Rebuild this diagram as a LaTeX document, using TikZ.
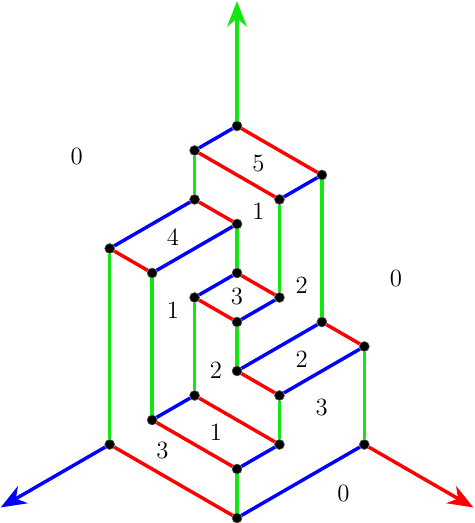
\documentclass[tikz,border=0pt]{standalone}
\usetikzlibrary{arrows.meta}
\definecolor{zgreen}{RGB}{20,230,20}
\tikzset{dot/.style={shape=circle,fill=black,draw=black!70,inner sep=0pt,minimum size=0.2cm}}
\tikzset{lbl/.style={font=\Large}}
\tikzset{every edge/.style={draw, line width=2pt}}
\tikzset{xe/.style={draw=red}, ye/.style={draw=blue}, ze/.style={draw=zgreen}}
\tikzset{ax/.style={-{Stealth[length=0.52cm,width=0.4cm,inset=0.16cm]}}}

\begin{document}
\begin{tikzpicture}[x={(0.866cm,-0.5cm)}, y={(-0.866cm,-0.5cm)}, z={(0cm,1cm)}]
  \useasboundingbox (-4.837cm,-3.102cm) rectangle (4.837cm,7.571cm);

  \node[dot] (v330) at (3,3,0) {};
  \node[dot] (v030) at (0,3,0) {};
  \node[dot] (v300) at (3,0,0) {};
  \node[dot] (v331) at (3,3,1) {};
  \node[dot] (v131) at (1,3,1) {};
  \node[dot] (v121) at (1,2,1) {};
  \node[dot] (v321) at (3,2,1) {};
  \node[dot] (v322) at (3,2,2) {};
  \node[dot] (v222) at (2,2,2) {};
  \node[dot] (v202) at (2,0,2) {};
  \node[dot] (v302) at (3,0,2) {};
  \node[dot] (v223) at (2,2,3) {};
  \node[dot] (v123) at (1,2,3) {};
  \node[dot] (v213) at (2,1,3) {};
  \node[dot] (v113) at (1,1,3) {};
  \node[dot] (v034) at (0,3,4) {};
  \node[dot] (v134) at (1,3,4) {};
  \node[dot] (v014) at (0,1,4) {};
  \node[dot] (v114) at (1,1,4) {};
  \node[dot] (v015) at (0,1,5) {};
  \node[dot] (v005) at (0,0,5) {};
  \node[dot] (v205) at (2,0,5) {};
  \node[dot] (v215) at (2,1,5) {};

  \coordinate (xend) at (5.57,0,0);
  \coordinate (yend) at (0,5.57,0);
  \coordinate (zend) at (0,0,7.55);

  \path (v030) edge[xe] (v330);
  \path (v131) edge[xe] (v331);
  \path (v121) edge[xe] (v321);
  \path (v222) edge[xe] (v322);
  \path (v202) edge[xe] (v302);
  \path (v123) edge[xe] (v223);
  \path (v113) edge[xe] (v213);
  \path (v034) edge[xe] (v134);
  \path (v014) edge[xe] (v114);
  \path (v015) edge[xe] (v215);
  \path (v005) edge[xe] (v205);

  \path (v330) edge[ye] (v300);
  \path (v331) edge[ye] (v321);
  \path (v131) edge[ye] (v121);
  \path (v222) edge[ye] (v202);
  \path (v322) edge[ye] (v302);
  \path (v123) edge[ye] (v113);
  \path (v223) edge[ye] (v213);
  \path (v034) edge[ye] (v014);
  \path (v134) edge[ye] (v114);
  \path (v015) edge[ye] (v005);
  \path (v215) edge[ye] (v205);

  \path (v330) edge[ze] (v331);
  \path (v030) edge[ze] (v034);
  \path (v131) edge[ze] (v134);
  \path (v121) edge[ze] (v123);
  \path (v321) edge[ze] (v322);
  \path (v300) edge[ze] (v302);
  \path (v222) edge[ze] (v223);
  \path (v213) edge[ze] (v215);
  \path (v202) edge[ze] (v205);
  \path (v113) edge[ze] (v114);
  \path (v014) edge[ze] (v015);

  \path (v300) edge[xe,ax] (xend);
  \path (v030) edge[ye,ax] (yend);
  \path (v005) edge[ze,ax] (zend);

  \node[lbl] (wallL) at (-3.27cm,4.37cm) {0};
  \node[lbl] (wallR) at (3.245cm,1.89cm) {0};
  \node[lbl] (floor) at (2.17cm,-2.50cm) {0};
  \node[lbl] (top5) at (0.435cm,4.24cm) {5};
  \node[lbl] (top4) at (-1.31cm,2.73cm) {4};
  \node[lbl] (top3) at (0cm,1.52cm) {3};
  \node[lbl] (top2) at (1.32cm,0.24cm) {2};
  \node[lbl] (top1) at (-0.43cm,-1.26cm) {1};
  \node[lbl] (sideA) at (0.435cm,3.25cm) {1};
  \node[lbl] (sideB) at (1.32cm,1.755cm) {2};
  \node[lbl] (sideC) at (-1.31cm,1.245cm) {1};
  \node[lbl] (sideD) at (-0.43cm,0.006cm) {2};
  \node[lbl] (sideE) at (1.73cm,-0.74cm) {3};
  \node[lbl] (sideF) at (-1.52cm,-1.63cm) {3};
\end{tikzpicture}
\end{document}
